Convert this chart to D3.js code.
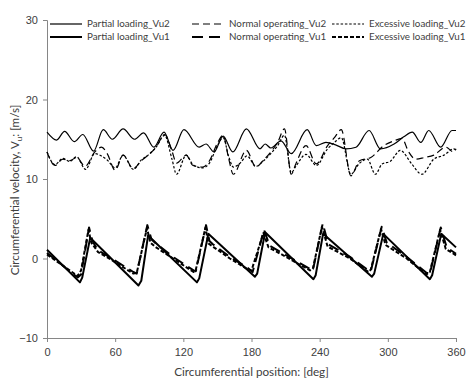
<!DOCTYPE html>
<html>
<head>
<meta charset="utf-8">
<script src="https://cdn.jsdelivr.net/npm/d3@7"></script>
<style>
  body { margin: 0; background: #fff; }
  svg { font-family: Lato, "Open Sans", sans-serif; }
</style>
</head>
<body>
<svg id="chart" width="474" height="388"></svg>
<script>
// Series data: [circumferential position (deg), velocity (m/s)]
var partialVu2 = [[0,15.9],[8.5,14.9],[15.5,16.0],[24,14.7],[31.5,15.6],[41,13.5],[49.5,16.2],[57.5,15.0],[67,16.3],[77,15.0],[85,15.8],[94,14.0],[103,15.9],[111,13.6],[120.5,16.2],[134,14.0],[140,14.4],[147,13.4],[155,15.4],[163.5,13.4],[175.5,16.3],[187.5,13.8],[192,14.4],[197,13.9],[206,14.8],[215,13.2],[229,16.2],[237,14.2],[245.5,14.6],[254,14.3],[263,13.8],[272,14.0],[283.5,16.1],[293.5,13.8],[305.5,14.4],[314,15.3],[321.5,15.9],[329,14.6],[336,16.1],[346.5,14.0],[356.5,16.1],[360,16.1]];
var normalVu2 = [[0,13.4],[7,11.7],[14,12.5],[20,12.3],[26,12.7],[33.5,11.6],[42,13.4],[48,14.0],[53,13.2],[60,11.1],[67,13.0],[76,11.3],[83,12.3],[89,13.0],[96,14.0],[103.5,15.6],[110,13.5],[114,12.0],[122.5,13.0],[128.5,11.7],[137,11.5],[143,12.3],[150,14.5],[155,15.5],[160,12.5],[164,10.6],[175.5,13.6],[184,11.5],[190,12.3],[197,13.4],[203,14.6],[209,16.3],[215,10.6],[219,11.9],[228,14.2],[237,11.9],[247,14.2],[253,15.2],[259,16.2],[267.5,10.4],[275,12.3],[285,12.7],[296.5,14.2],[305.5,14.8],[312.5,15.1],[318,13.5],[324.5,12.5],[332,12.7],[340.5,13.0],[351,14.0],[358,13.4],[360,13.8]];
var excessiveVu2 = [[0,13.4],[7,11.8],[14,12.6],[20,12.2],[26,12.8],[34,11.2],[42,13.2],[48,12.9],[53,12.4],[60,11.4],[67,13.0],[76,11.2],[83,12.4],[89,13.0],[96,14.0],[103.5,15.5],[110,12.5],[114,10.6],[122.5,13.0],[128.5,11.8],[137,11.4],[143,12.0],[150,14.2],[155,15.2],[160,12.8],[164,11.5],[170,12.0],[176,12.9],[184,11.6],[190,12.2],[197,13.2],[203,14.2],[209,15.5],[215,10.8],[219,11.6],[228,13.1],[237,11.7],[247,13.8],[253,14.6],[259,15.2],[267.5,10.6],[274.5,11.9],[282,12.5],[289,10.6],[295,11.9],[302,12.2],[311,13.6],[321,11.9],[330,10.6],[340.5,12.5],[349.5,13.0],[358,13.8],[360,13.6]];
var partialVu1 = [[0,1.1],[29,-3.0],[31,-2.4],[38,2.6],[80.5,-3.4],[83,-2.8],[89,2.9],[132,-3.0],[134,-2.5],[142,3.1],[183,-2.3],[185,-1.9],[192,3.3],[234.5,-2.6],[236.5,-2.1],[243,3.1],[286,-2.3],[288,-1.9],[296,3.1],[337,-2.6],[339,-2.1],[347,3.1],[360,1.4]];
var normalVu1 = [[0,0.7],[27,-2.4],[30,-2.0],[37,3.9],[40,2.2],[45,1.0],[52.5,0.4],[76,-1.7],[79,-1.9],[88.3,4.2],[92,2.4],[95,2.0],[111,0.2],[129,-1.5],[131,-1.6],[140,4.2],[143,2.2],[146,1.8],[161,0.2],[176,-1.1],[181,-1.7],[191,3.6],[196,1.6],[208,0.6],[231.5,-1.3],[234,-1.5],[242.7,4.4],[247.6,1.8],[266.7,0.2],[283,-1.5],[285,-1.6],[294.6,4.0],[299,2.0],[316.6,0.2],[334,-1.8],[337,-1.9],[346.6,3.9],[351.8,1.4],[360,0.6]];
var excessiveVu1 = [[0,0.5],[27,-2.2],[30,-1.5],[36.5,3.6],[39,2.0],[45,0.8],[52.5,0.2],[76,-1.9],[79,-1.8],[88,3.8],[91,2.0],[95,1.5],[111,0.0],[129,-1.7],[131,-1.4],[139.5,3.9],[142,1.9],[146,1.5],[161,0.0],[176,-1.3],[180,-1.5],[190.5,3.2],[195,1.4],[208,0.4],[231.5,-1.5],[234,-1.3],[242,4.0],[247,1.5],[266.7,0.0],[283,-1.7],[285,-1.4],[294,3.7],[298,1.7],[316.6,0.0],[334,-2.0],[337,-1.7],[346,3.6],[351,1.2],[360,0.4]];

var seriesNames = ["Partial loading_Vu2", "Normal operating_Vu2", "Excessive loading_Vu2",
                   "Partial loading_Vu1", "Normal operating_Vu1", "Excessive loading_Vu1"];
var xTicks = [0, 60, 120, 180, 240, 300, 360];
var yTicks = [-10, 0, 10, 20, 30];

var series = [
  { name: seriesNames[0], values: partialVu2, width: 1.2, dash: null, smooth: true },
  { name: seriesNames[1], values: normalVu2, width: 1.2, dash: "7,4", smooth: true },
  { name: seriesNames[2], values: excessiveVu2, width: 1.2, dash: "2.5,1.8", smooth: true },
  { name: seriesNames[3], values: partialVu1, width: 2, dash: null, smooth: false },
  { name: seriesNames[4], values: normalVu1, width: 2, dash: "11,6", smooth: false },
  { name: seriesNames[5], values: excessiveVu1, width: 2, dash: "4,2", smooth: false }
];

var svg = d3.select("#chart");
var plotLeft = 47, plotRight = 456, plotTop = 20, plotBottom = 338;
var textColor = "#404040", axisColor = "#868686";

var x = d3.scaleLinear().domain([0, 360]).range([plotLeft, plotRight]);
var y = d3.scaleLinear().domain([-10, 30]).range([plotBottom, plotTop]);

// Axes
var xAxis = svg.append("g")
  .attr("transform", "translate(0," + plotBottom + ")")
  .call(d3.axisBottom(x).tickValues(xTicks).tickSize(4).tickPadding(6));
var yAxis = svg.append("g")
  .attr("transform", "translate(" + plotLeft + ",0)")
  .call(d3.axisLeft(y).tickValues(yTicks).tickSize(4).tickPadding(5));

[xAxis, yAxis].forEach(function (g) {
  g.select(".domain").attr("stroke", axisColor).attr("stroke-width", 1);
  g.selectAll(".tick line").attr("stroke", axisColor);
  g.selectAll(".tick text").attr("fill", textColor).style("font-size", "11px");
});

// Axis titles
svg.append("text")
  .attr("x", (plotLeft + plotRight) / 2)
  .attr("y", 376)
  .attr("text-anchor", "middle")
  .attr("fill", textColor)
  .style("font-size", "11.7px")
  .text("Circumferential position: [deg]");

var yTitle = svg.append("text")
  .attr("transform", "translate(19,190) rotate(-90)")
  .attr("text-anchor", "middle")
  .attr("fill", textColor)
  .style("font-size", "11.7px");
yTitle.append("tspan").text("Circumferential velocity, V");
yTitle.append("tspan").attr("dy", 3).style("font-size", "8px").text("u");
yTitle.append("tspan").attr("dy", -3).text(": [m/s]");

// Lines
var smoothLine = d3.line()
  .x(function (d) { return x(d[0]); })
  .y(function (d) { return y(d[1]); })
  .curve(d3.curveMonotoneX);
var straightLine = d3.line()
  .x(function (d) { return x(d[0]); })
  .y(function (d) { return y(d[1]); });

svg.append("g")
  .selectAll("path")
  .data(series)
  .enter()
  .append("path")
  .attr("d", function (d) { return d.smooth ? smoothLine(d.values) : straightLine(d.values); })
  .attr("fill", "none")
  .attr("stroke", "#000")
  .attr("stroke-width", function (d) { return d.width; })
  .attr("stroke-linejoin", "round")
  .attr("stroke-dasharray", function (d) { return d.dash; });

// Legend: 3 columns x 2 rows
var legendCols = [50, 192, 332];
var legendRows = [24, 37];
var legend = svg.append("g")
  .selectAll("g")
  .data(series)
  .enter()
  .append("g")
  .attr("transform", function (d, i) {
    return "translate(" + legendCols[i % 3] + "," + legendRows[Math.floor(i / 3)] + ")";
  });

legend.append("line")
  .attr("x1", 0).attr("x2", 32)
  .attr("y1", 0).attr("y2", 0)
  .attr("stroke", "#000")
  .attr("stroke-width", function (d) { return d.width; })
  .attr("stroke-dasharray", function (d) { return d.dash; });

legend.append("text")
  .attr("x", 37)
  .attr("y", 0)
  .attr("dy", "0.35em")
  .attr("fill", textColor)
  .style("font-size", "9.8px")
  .text(function (d) { return d.name; });
</script>
</body>
</html>
